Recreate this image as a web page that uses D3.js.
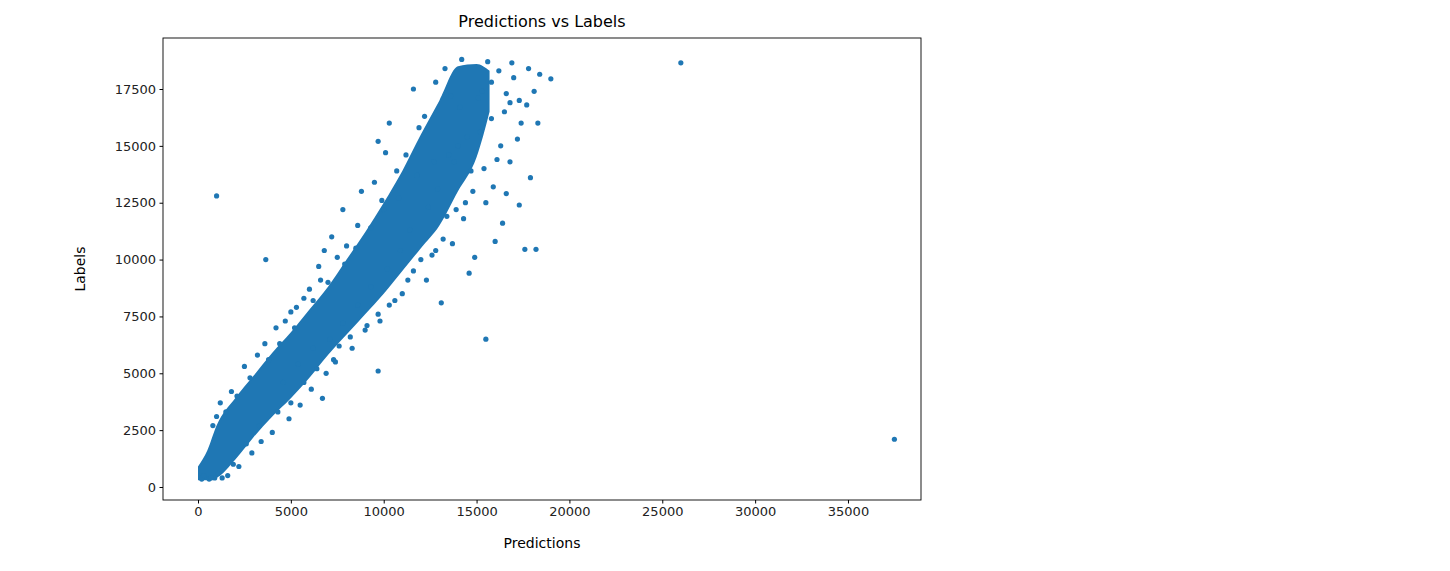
<!DOCTYPE html><html><head><meta charset="utf-8">
<script src="https://cdn.jsdelivr.net/npm/d3@7"></script>
<style>body{margin:0;background:#fff}text{font-family:"DejaVu Sans",sans-serif}</style></head><body>
<svg id="c" width="1450" height="571"></svg>
<script>
// Dense core envelope (prediction, min label, max label)
const corePred=[0,500,1000,2000,3000,4000,5000,6000,7000,8000,9000,10000,11000,12000,13000,14000,15000,15700];
const coreLow=[300,300,400,1200,2200,3100,3900,4800,5800,6700,7600,8500,9500,10500,11500,13000,14500,16500];
const coreHigh=[900,1600,2700,3900,4900,5900,6800,7800,8800,10000,11200,12500,13900,15500,17000,18500,18600,18300];
// Scattered points
const predictions=[1000,3650,15500,26000,37500,9700,13100,16000,17600,18200,17300,17900,16800,17200,18300,17700,19000,18400,17800,16900,15600,14200,13300,12800,11600,10300,9700,10100,8800,9500,7800,7200,6800,6500,5700,5000,4200,3600,3200,2500,1800,1200,1000,800,14700,15500,14300,13700,12600,11600,12300,11000,10300,9700,9100,8200,7600,7300,6400,5700,6700,5000,4300,3300,2600,1900,1300,900,600,200,16300,15800,16600,15200,14500,13800,12900,12400,13400,11400,10900,10200,9300,8600,7800,7100,6200,5400,4600,17000,16200,15300,14100,13600,12200,11900,11200,10700,9900,8600,8000,7500,6600,6000,5300,4700,14900,16400,15900,17300,18100,14600,12800,
 13900,14800,15400,16100,15800,16500,14400,13200,12000,11300,10600,9800,9000,8300,7400,6900,6100,5500,4900,4000,3400,2900,2200,1600,1100,700,300,13500,12700,11800,10800,10000,9300,8500,7900,7000,6200,5200,4400,3800,2800,2100,1500,16800,15100,14000,17400,16600];
const labels=[12800,10000,6500,18650,2100,5100,8100,10800,10450,10450,12400,13600,14300,15300,16000,16800,17950,18150,18400,18650,18700,18800,18400,17800,17500,16000,15200,14700,13000,13400,12200,11000,10400,9700,8300,7700,7000,6300,5800,5300,4200,3700,3100,2700,13900,12500,11800,10700,10200,9500,9100,8500,8000,7600,7100,6600,6200,5600,5200,4600,3900,3700,3300,2700,1900,1000,400,400,350,350,15000,16200,17300,15600,15400,14300,13100,12300,11900,11300,10400,9600,8800,8000,7200,6500,6100,5400,4600,18000,18300,17400,16700,17200,16300,15800,14600,13900,12600,11500,10600,10100,9100,8700,7900,7300,10100,11600,13200,17000,17400,9400,10400,
 12200,13000,14000,14400,17800,16500,12500,10900,10000,9100,8200,7300,6900,6100,5500,5000,4300,3600,3000,2400,2000,1500,900,500,600,400,500,14600,14300,13700,12700,12200,11400,10500,9800,9000,8200,7000,6300,5600,4800,4000,3300,16900,17100,15000,16000,12900];
const xTicks=[0,5000,10000,15000,20000,25000,30000,35000];
const yTicks=[0,2500,5000,7500,10000,12500,15000,17500];
const color="#1f77b4";
const svg=d3.select("#c");
const L=163,R=921,T=38,B=500;
const x=d3.scaleLinear().domain([-1885,38932]).range([L,R]);
const y=d3.scaleLinear().domain([-572,19743]).range([B,T]);
const core=corePred.map((p,i)=>({p,lo:coreLow[i],hi:coreHigh[i]}));
svg.append("path").datum(core).attr("fill",color)
 .attr("d",d3.area().x(d=>x(d.p)).y0(d=>y(d.lo)).y1(d=>y(d.hi)).curve(d3.curveMonotoneX));
svg.selectAll("circle.p").data(predictions.map((p,i)=>[p,labels[i]])).join("circle")
 .attr("cx",d=>x(d[0])).attr("cy",d=>y(d[1])).attr("r",2.6).attr("fill",color);
const gx=svg.append("g").attr("transform",`translate(0,${B})`).call(d3.axisBottom(x).tickValues(xTicks).tickFormat(d3.format("d")).tickSizeOuter(0).tickSize(3.5).tickPadding(3.5));
const gy=svg.append("g").attr("transform",`translate(${L},0)`).call(d3.axisLeft(y).tickValues(yTicks).tickFormat(d3.format("d")).tickSizeOuter(0).tickSize(3.5).tickPadding(3.5));
[gx,gy].forEach(g=>{g.selectAll("text").attr("font-size",13).attr("fill","#222").style("font-family","DejaVu Sans");g.select(".domain").remove();});
svg.append("rect").attr("x",L).attr("y",T).attr("width",R-L).attr("height",B-T).attr("fill","none").attr("stroke","#000").attr("stroke-width",0.9);
svg.append("text").attr("x",(L+R)/2).attr("y",27).attr("text-anchor","middle").attr("font-size",16).text("Predictions vs Labels");
svg.append("text").attr("x",(L+R)/2).attr("y",548).attr("text-anchor","middle").attr("font-size",14).text("Predictions");
svg.append("text").attr("transform",`translate(85,${(T+B)/2}) rotate(-90)`).attr("text-anchor","middle").attr("font-size",14).text("Labels");
</script></body></html>
